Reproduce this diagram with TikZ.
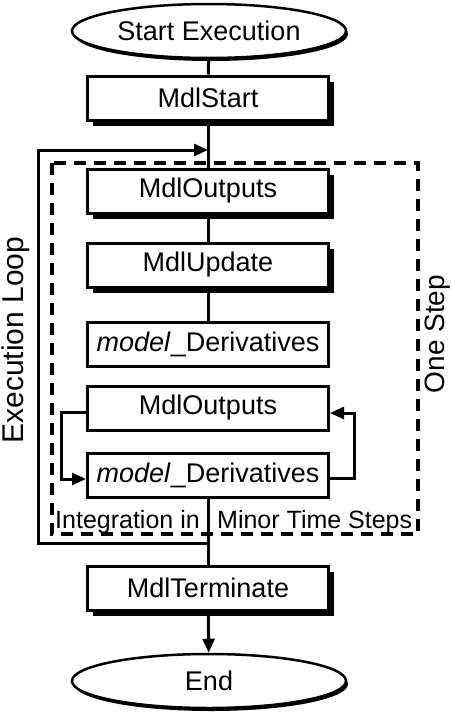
\documentclass[tikz,border=0pt]{standalone}
\usepackage{fontspec}
\setmainfont{Liberation Sans}
\usepackage{tikz}
\usetikzlibrary{arrows.meta,positioning,shapes.geometric,shadows}

\begin{document}
\begin{tikzpicture}[
  x=1pt,y=-1pt,
  font=\fontsize{27}{32}\selectfont,
  fnbox/.style={draw,fill=white,line width=3pt,minimum width=241pt,minimum height=44pt,inner sep=2pt},
  shbox/.style={fnbox,drop shadow={shadow xshift=5pt,shadow yshift=-6pt,fill=black,opacity=1}},
  term/.style={draw,fill=white,ellipse,line width=2.5pt,minimum width=274pt,minimum height=54pt,inner sep=0pt,
    drop shadow={shadow xshift=2pt,shadow yshift=-3pt,fill=black,opacity=1}},
  lbl/.style={font=\fontsize{25}{29}\selectfont,inner sep=0pt},
  conn/.style={line width=3pt},
  >={Triangle[length=14pt,width=12pt]}]
  \useasboundingbox (0,0) rectangle (452,712);
  % one step frame
  \draw[line width=3.2pt,dash pattern=on 12pt off 8pt] (52,163) rectangle (418,534);
  \node[term] (start) at (209,31) {Start Execution};
  \node[shbox] (mdlstart) at (208,98) {MdlStart};
  \node[shbox] (outputs) at (208,191) {MdlOutputs};
  \node[shbox] (update) at (208,265) {MdlUpdate};
  \node[fnbox] (derivs) at (208,344) {\textit{model}\_Derivatives};
  \node[fnbox] (inout) at (208,408) {MdlOutputs};
  \node[fnbox] (inder) at (208,475) {\textit{model}\_Derivatives};
  \node[shbox] (terminate) at (208,588) {MdlTerminate};
  \node[term] (end) at (209,681) {End};
  \coordinate (loopin) at (208,150);
  \coordinate (loopout) at (208,543);
  % main chain
  \draw[conn] (start) -- (mdlstart);
  \draw[conn] (mdlstart) -- (outputs);
  \draw[conn] (outputs) -- (update);
  \draw[conn] (update) -- (derivs);
  \draw[conn] (inder) -- (terminate);
  \draw[conn,->] (terminate) -- (end);
  % loops
  \draw[conn,->] (loopout) -- ++(-170,0) |- (loopin);
  \draw[conn,->] ([yshift=-4pt]inout.west) -- ++(-25,0) |- ([yshift=-4pt]inder.west);
  \draw[conn,->] ([yshift=-3pt]inder.east) -- ++(24,0) |- ([yshift=-5pt]inout.east);
  % labels
  \node[lbl,anchor=base west] (intlbl) at (55,528) {Integration in};
  \node[lbl,anchor=base west] (minlbl) at (217,528) {Minor Time Steps};
  \node[rotate=90,font=\fontsize{30}{34}\selectfont] (execlbl) at (16,340) {Execution Loop};
  \node[rotate=90,font=\fontsize{28}{32}\selectfont] (steplbl) at (438,334) {One Step};
\end{tikzpicture}
\end{document}
